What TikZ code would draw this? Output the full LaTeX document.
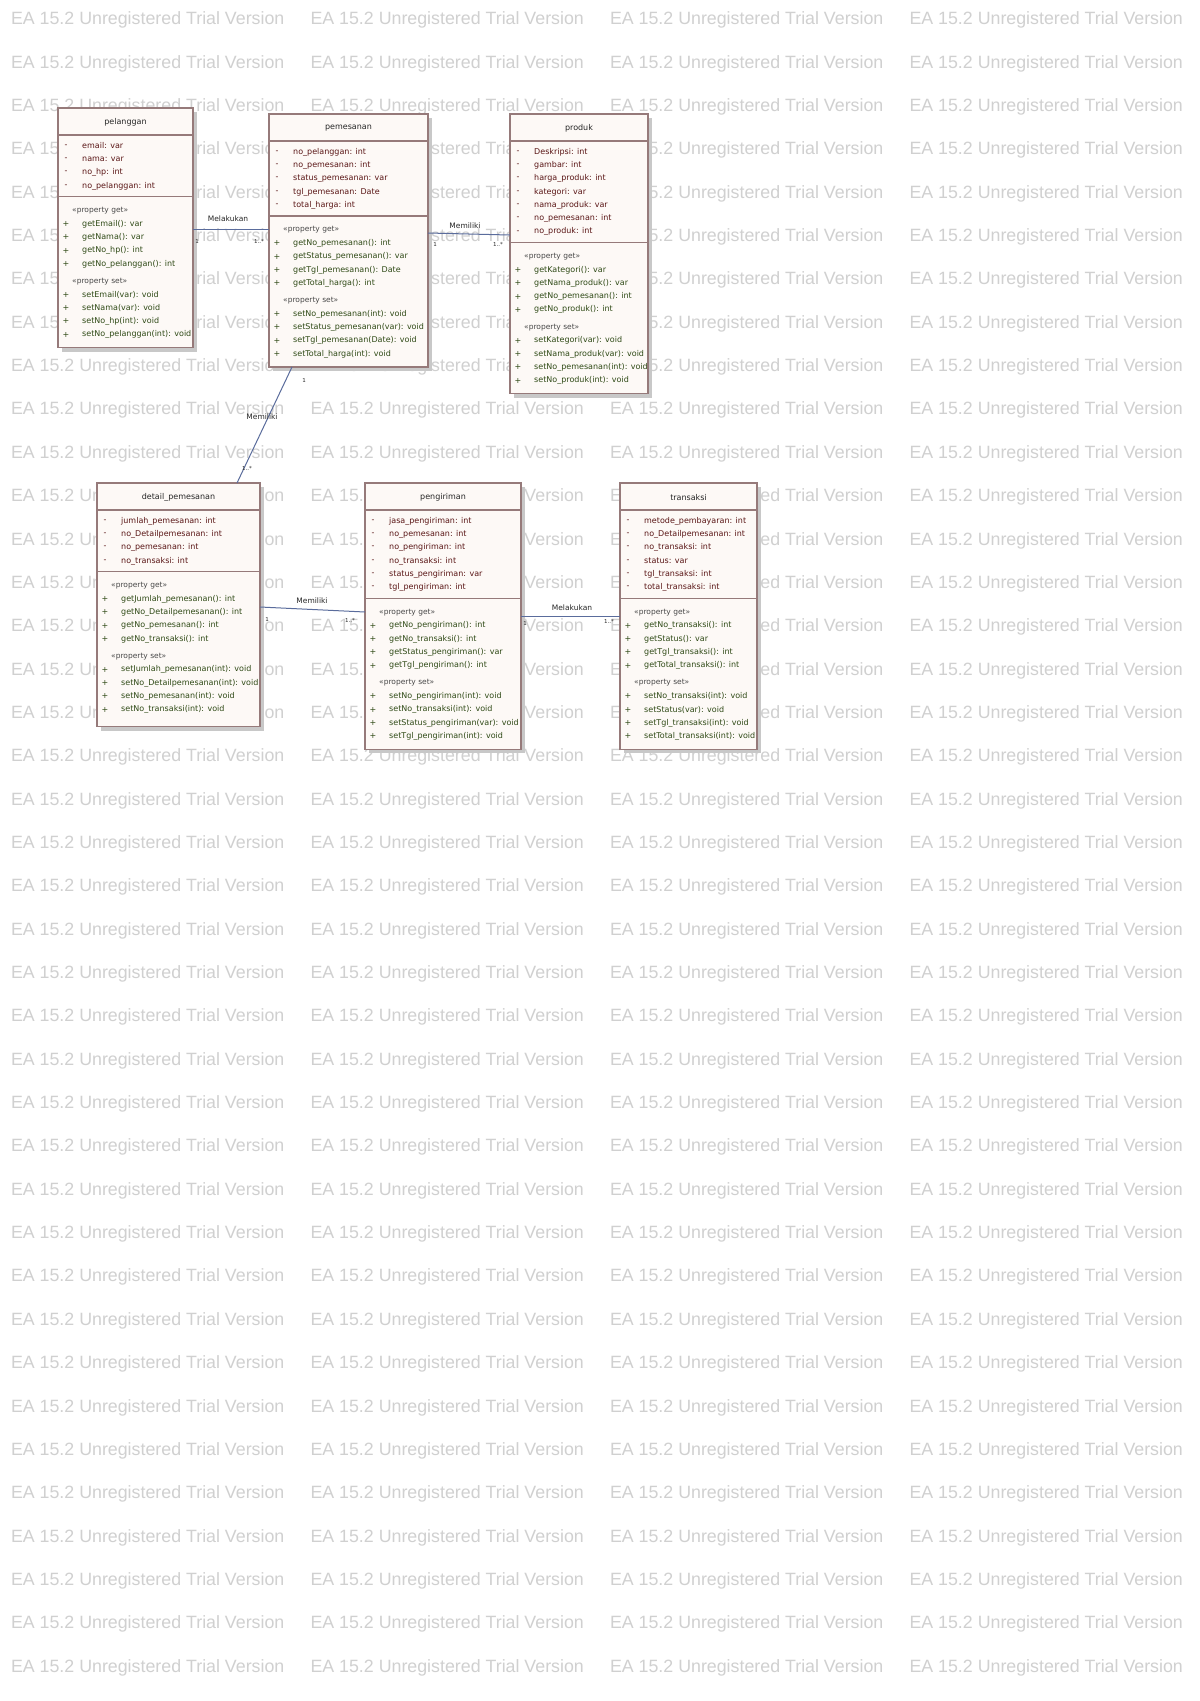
\documentclass[tikz,border=0pt]{standalone}
\usepackage{fontspec}
\setmainfont{DejaVu Sans}
\newfontfamily\wmfont{Liberation Sans}
\definecolor{wmgray}{HTML}{D0D0D0}
\definecolor{boxfill}{HTML}{FDF9F6}
\definecolor{boxborder}{HTML}{967A7A}
\definecolor{shadowc}{HTML}{C8C8C8}
\definecolor{attrc}{HTML}{5A1616}
\definecolor{methc}{HTML}{2F4A16}
\definecolor{stereoc}{HTML}{484848}
\definecolor{titlec}{HTML}{262626}
\definecolor{connc}{HTML}{5A6C9C}
\tikzset{
  wm/.style={font=\wmfont\fontsize{17.8}{20}\selectfont, text=wmgray, inner sep=0pt, anchor=base west},
  classbox/.style={rectangle, draw=boxborder, fill=boxfill, line width=1.4pt, inner sep=0pt, outer sep=0pt},
  divline/.style={draw=boxborder, line width=1.1pt},
  titletext/.style={font=\fontsize{8}{9}\selectfont, text=titlec, inner sep=0pt},
  attrtext/.style={font=\fontsize{8}{9}\selectfont, text=attrc, inner sep=0pt, anchor=west},
  methtext/.style={font=\fontsize{8}{9}\selectfont, text=methc, inner sep=0pt, anchor=west},
  attrvis/.style={font=\fontsize{8}{9}\selectfont, text=attrc, inner sep=0pt},
  methvis/.style={font=\fontsize{8}{9}\selectfont, text=methc, inner sep=0pt},
  stereotext/.style={font=\fontsize{7.5}{9}\selectfont, text=stereoc, inner sep=0pt, anchor=west},
  conn/.style={draw=connc, line width=1pt},
  connlabel/.style={font=\fontsize{7.5}{9}\selectfont, text=titlec, inner sep=0pt},
  multlabel/.style={font=\fontsize{5.5}{6}\selectfont, text=titlec, inner sep=0pt}
}
\def\opsH{151}
% #1 id, #2 left, #3 top, #4 width, #5 title, #6 attrs, #7 getters, #8 setters
\newcommand\umlclass[8]{%
  \foreach \a [count=\k] in {#6} {\xdef\nattr{\k}}%
  \pgfmathsetmacro\dA{#3+27}%
  \pgfmathsetmacro\dB{\dA+13.3*\nattr+8.5}%
  \pgfmathsetmacro\bot{\dB+\opsH}%
  \pgfmathsetmacro\hh{\bot-#3}%
  \fill[shadowc] (#2+4,#3+4) rectangle (#2+#4+4,\bot+4);
  \node[classbox, minimum width=#4pt, minimum height=\hh pt, anchor=north west] (#1) at (#2,#3) {};
  \draw[divline] (#2,\dA) -- (#2+#4,\dA);
  \draw[divline] (#2,\dB) -- (#2+#4,\dB);
  \node[titletext] (#1-title) at (#2+#4/2,#3+14.5) {#5};
  \foreach \a [count=\k] in {#6} {
    \node[attrvis] (#1-av\k) at (#2+8,\dA+11+13.3*\k-13.3) {-};
    \node[attrtext] (#1-a\k) at (#2+24,\dA+11+13.3*\k-13.3) {\a};
  }
  \node[stereotext] (#1-sg) at (#2+14,\dB+14) {«property get»};
  \foreach \a [count=\k] in {#7} {
    \node[methvis] (#1-gv\k) at (#2+8,\dB+14+13.3*\k) {+};
    \node[methtext] (#1-g\k) at (#2+24,\dB+14+13.3*\k) {\a};
  }
  \node[stereotext] (#1-ss) at (#2+14,\dB+84.7) {«property set»};
  \foreach \a [count=\k] in {#8} {
    \node[methvis] (#1-sv\k) at (#2+8,\dB+84.7+13.3*\k) {+};
    \node[methtext] (#1-s\k) at (#2+24,\dB+84.7+13.3*\k) {\a};
  }
}
\begin{document}
\catcode`\_=12
\begin{tikzpicture}[x=1pt,y=-1pt]
\useasboundingbox (0,0) rectangle (1200,1701);
\fill[white] (0,0) rectangle (1200,1701);
% watermark
\foreach \r in {0,...,38} {
  \foreach \c in {0,...,3} {
    \node[wm] (wm-\r-\c) at (10.8+299.5*\c, 24.8+43.35*\r) {EA 15.2 Unregistered Trial Version};
  }
}
% classes
\umlclass{pelanggan}{58}{108}{135}{pelanggan}
  {email: var, nama: var, no_hp: int, no_pelanggan: int}
  {getEmail(): var, getNama(): var, getNo_hp(): int, getNo_pelanggan(): int}
  {setEmail(var): void, setNama(var): void, setNo_hp(int): void, setNo_pelanggan(int): void}
\umlclass{pemesanan}{269}{114}{159}{pemesanan}
  {no_pelanggan: int, no_pemesanan: int, status_pemesanan: var, tgl_pemesanan: Date, total_harga: int}
  {getNo_pemesanan(): int, getStatus_pemesanan(): var, getTgl_pemesanan(): Date, getTotal_harga(): int}
  {setNo_pemesanan(int): void, setStatus_pemesanan(var): void, setTgl_pemesanan(Date): void, setTotal_harga(int): void}
\umlclass{produk}{510}{114}{138}{produk}
  {Deskripsi: int, gambar: int, harga_produk: int, kategori: var, nama_produk: var, no_pemesanan: int, no_produk: int}
  {getKategori(): var, getNama_produk(): var, getNo_pemesanan(): int, getNo_produk(): int}
  {setKategori(var): void, setNama_produk(var): void, setNo_pemesanan(int): void, setNo_produk(int): void}
\def\opsH{155}
\umlclass{detail}{97}{483}{163}{detail_pemesanan}
  {jumlah_pemesanan: int, no_Detailpemesanan: int, no_pemesanan: int, no_transaksi: int}
  {getJumlah_pemesanan(): int, getNo_Detailpemesanan(): int, getNo_pemesanan(): int, getNo_transaksi(): int}
  {setJumlah_pemesanan(int): void, setNo_Detailpemesanan(int): void, setNo_pemesanan(int): void, setNo_transaksi(int): void}
\def\opsH{151}
\umlclass{pengiriman}{365}{483}{156}{pengiriman}
  {jasa_pengiriman: int, no_pemesanan: int, no_pengiriman: int, no_transaksi: int, status_pengiriman: var, tgl_pengiriman: int}
  {getNo_pengiriman(): int, getNo_transaksi(): int, getStatus_pengiriman(): var, getTgl_pengiriman(): int}
  {setNo_pengiriman(int): void, setNo_transaksi(int): void, setStatus_pengiriman(var): void, setTgl_pengiriman(int): void}
\umlclass{transaksi}{620}{483}{137}{transaksi}
  {metode_pembayaran: int, no_Detailpemesanan: int, no_transaksi: int, status: var, tgl_transaksi: int, total_transaksi: int}
  {getNo_transaksi(): int, getStatus(): var, getTgl_transaksi(): int, getTotal_transaksi(): int}
  {setNo_transaksi(int): void, setStatus(var): void, setTgl_transaksi(int): void, setTotal_transaksi(int): void}
% connectors
\draw[conn] (pelanggan.east |- 0,229) -- (pemesanan.west |- 0,229);
\draw[conn] (pemesanan.east |- 0,233) -- (produk.west |- 0,235);
\draw[conn] (pemesanan.south -| 292,0) -- (detail.north -| 237,0);
\draw[conn] (detail.east |- 0,607) -- (pengiriman.west |- 0,612);
\draw[conn] (pengiriman.east |- 0,616) -- (transaksi.west |- 0,616);
% labels
\node[connlabel] (l1) at (228,219) {Melakukan};
\node[connlabel] (l2) at (465,226) {Memiliki};
\node[connlabel] (l3) at (262,417) {Memiliki};
\node[connlabel] (l4) at (312,601) {Memiliki};
\node[connlabel] (l5) at (572,608) {Melakukan};
% multiplicities
\node[multlabel] (m1a) at (197,241) {1};
\node[multlabel] (m1b) at (259,241) {1..*};
\node[multlabel] (m2a) at (435,244) {1};
\node[multlabel] (m2b) at (498,244) {1..*};
\node[multlabel] (m3a) at (304,380) {1};
\node[multlabel] (m3b) at (247,468) {1..*};
\node[multlabel] (m4a) at (267,619) {1};
\node[multlabel] (m4b) at (350,620) {1..*};
\node[multlabel] (m5a) at (525,623) {1};
\node[multlabel] (m5b) at (609,621) {1..*};
\end{tikzpicture}
\end{document}
